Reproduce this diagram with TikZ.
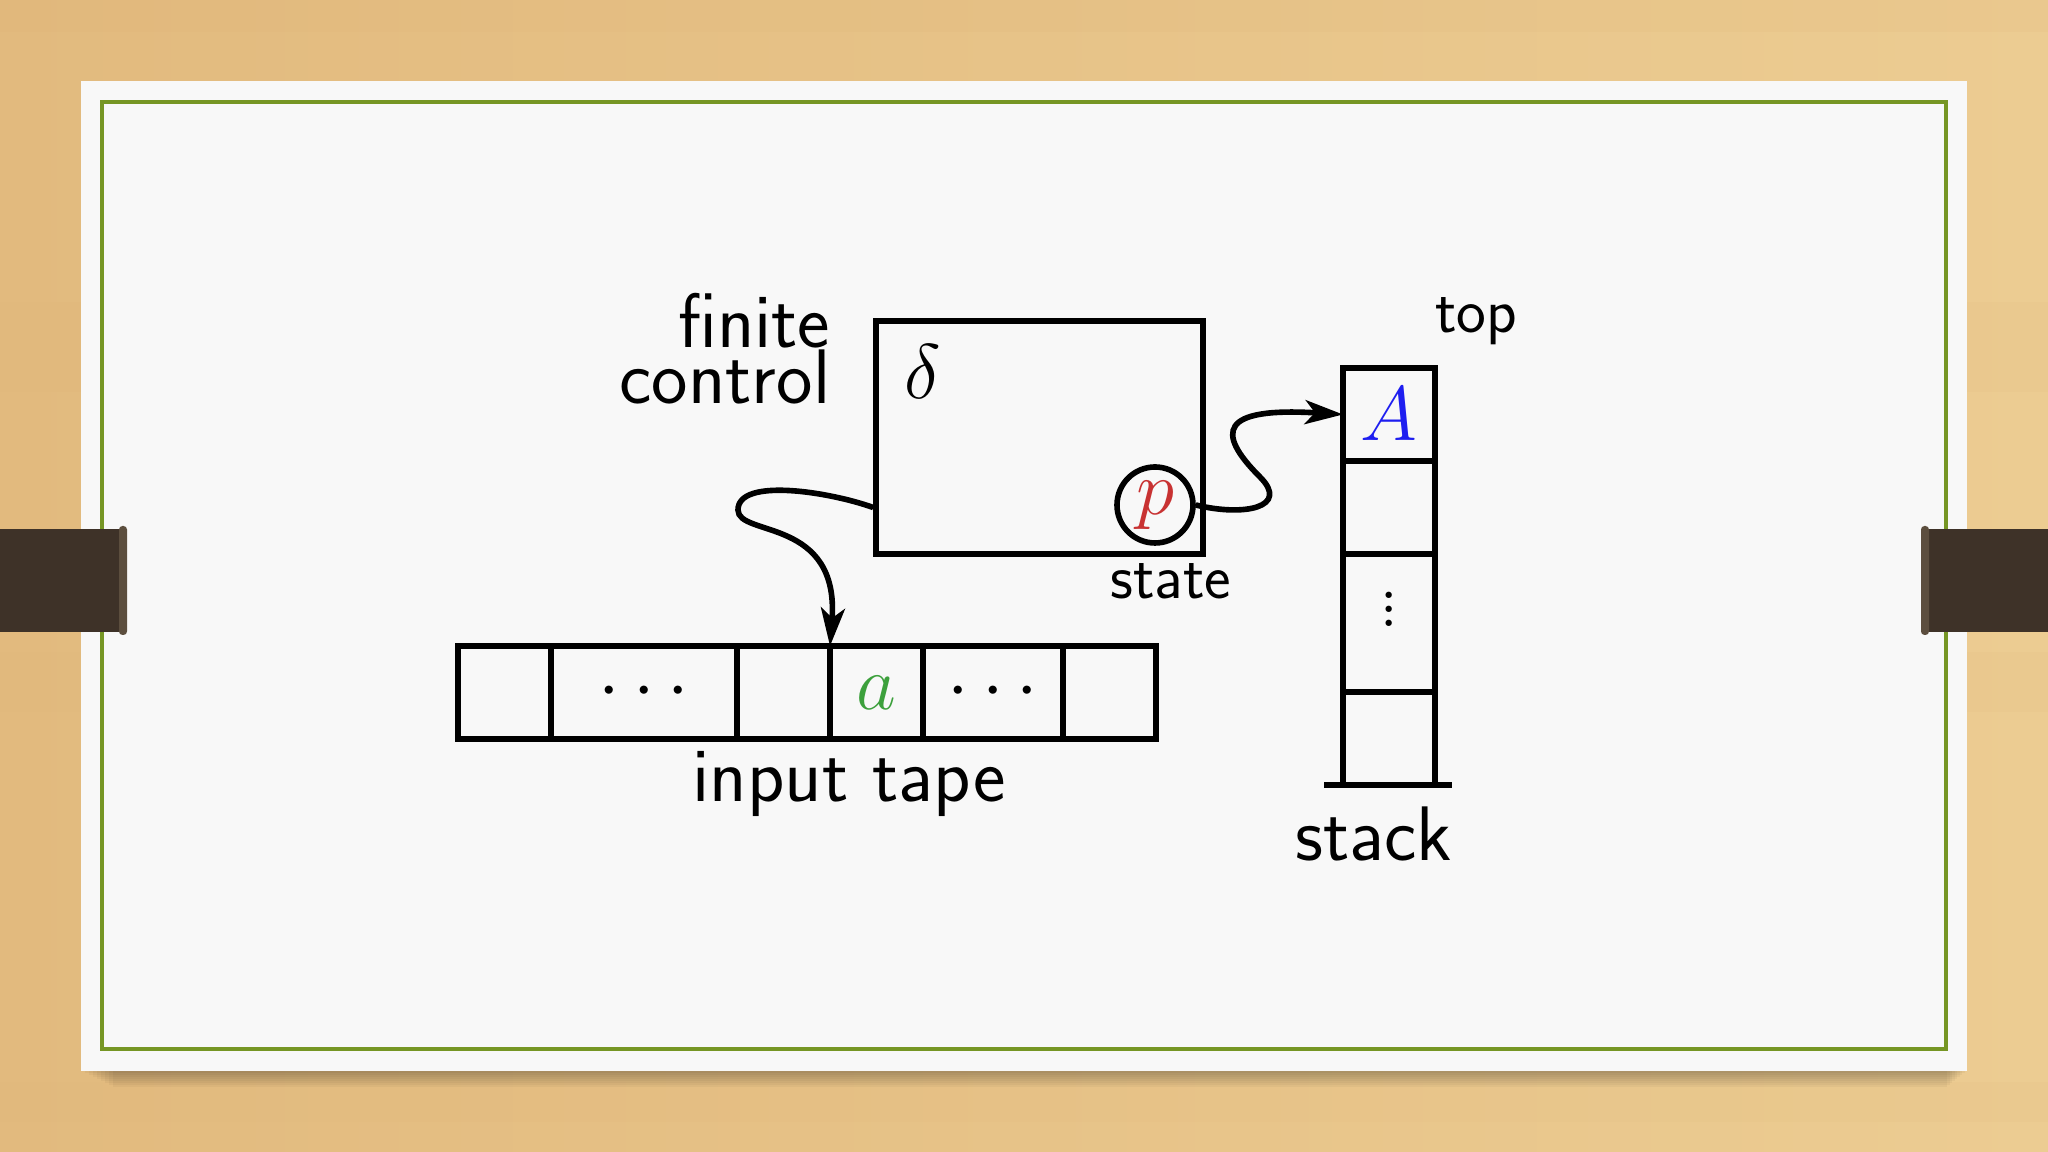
\RequirePackage{fix-cm}
\documentclass[tikz,border=0pt]{standalone}
\usetikzlibrary{arrows.meta, positioning, calc}
\definecolor{woodleft}   {RGB}{226, 186, 126}
\definecolor{woodright}  {RGB}{236, 204, 146}
\definecolor{papercolor} {RGB}{248, 248, 248}
\definecolor{framecolor} {RGB}{118, 150,  36}
\definecolor{bandcolor}  {RGB}{ 62,  50,  40}
\definecolor{capcolor}   {RGB}{ 92,  78,  62}
\definecolor{statecolor} {RGB}{200,  50,  50}
\definecolor{inputcolor} {RGB}{ 60, 160,  60}
\definecolor{stackcolor} {RGB}{ 30,  30, 240}
\newcommand{\diagfont}{\fontsize{22}{16}\selectfont}
\newcommand{\notefont}{\fontsize{18}{20}\selectfont}
\tikzset{
	cellblock/.style={
		rectangle, draw=black, line width=1.6pt,
		minimum width=0.93cm, minimum height=0.93cm,
		inner sep=0pt, outer sep=0pt, font=\diagfont
	},
	ctrlblock/.style={
		rectangle, draw=black, line width=1.6pt,
		minimum width=3.27cm, minimum height=2.33cm,
		inner sep=0pt
	},
	statecircle/.style={
		circle, draw=black, line width=1.6pt,
		minimum size=0.76cm, inner sep=0pt, font=\diagfont
	},
	textlabel/.style={inner sep=0pt, font=\diagfont\sffamily},
	notelabel/.style={inner sep=0pt, font=\notefont\sffamily},
	arrow/.style={
		-{Stealth[length=0.38cm, width=0.24cm, inset=0.1cm]},
		line width=1.6pt, color=black
	},
	groundline/.style={line width=1.6pt, color=black}
}

\begin{document}
\begin{tikzpicture}
	\useasboundingbox (0,0) rectangle (20.48,11.52);

	%% ═══════════════════════════════
	%%  BACKGROUND — wood, paper, bands
	%% ═══════════════════════════════
	\shade[left color=woodleft, right color=woodright] (0,0) rectangle (20.48,11.52);
	\foreach \y/\h/\op in {11.2/0.32/0.12, 7.6/0.9/0.1, 4.4/0.6/0.08, 0.3/0.4/0.08}
		\fill[woodleft!85!brown, opacity=\op] (0,\y) rectangle (20.48,\y+\h);

	% shadow under the paper
	\foreach \d in {1,...,8}
		\fill[black, opacity=0.035] (0.81+0.04*\d,0.81-0.02*\d) rectangle (19.67-0.025*\d,1.5);

	\fill[papercolor] (0.81,0.81) rectangle (19.67,10.71);
	\draw[framecolor, line width=0.9pt] (1.02,1.03) rectangle (19.46,10.50);

	% binder bands
	\fill[bandcolor] (0,5.20) rectangle (1.24,6.23);
	\fill[capcolor, rounded corners=1pt] (1.19,5.17) rectangle (1.27,6.26);
	\fill[bandcolor] (19.24,5.20) rectangle (20.48,6.23);
	\fill[capcolor, rounded corners=1pt] (19.21,5.17) rectangle (19.29,6.26);

	%% ═══════════════════════════════
	%%  FINITE CONTROL
	%% ═══════════════════════════════
	\node[ctrlblock] (fc) at (10.395,7.145) {};
	\node[inner sep=0pt, font=\diagfont] (delta) at (9.23,7.80) {$\delta$};
	\node[statecircle] (p) at (11.55,6.47) {$\color{statecolor}p$};
	\node[textlabel, align=right, anchor=east] (fclabel) at (8.31,8.03) {finite\\control};
	\node[notelabel] (statelabel) at (11.71,5.71) {state};

	%% ═══════════════════════════════
	%%  INPUT TAPE
	%% ═══════════════════════════════
	\node[cellblock] (t1) at (5.045,4.595) {};
	\node[cellblock, minimum width=1.86cm, right=0pt of t1] (t2) {$\cdots$};
	\node[cellblock, right=0pt of t2] (t3) {};
	\node[cellblock, right=0pt of t3] (t4) {$\color{inputcolor}a$};
	\node[cellblock, minimum width=1.40cm, right=0pt of t4] (t5) {$\cdots$};
	\node[cellblock, right=0pt of t5] (t6) {};
	\node[textlabel] (tapelabel) at (8.49,3.68) {input tape};

	%% ═══════════════════════════════
	%%  STACK
	%% ═══════════════════════════════
	\node[cellblock, minimum width=0.92cm] (s1) at (13.89,7.375) {$\color{stackcolor}A$};
	\node[cellblock, minimum width=0.92cm, below=0pt of s1] (s2) {};
	\node[cellblock, minimum width=0.92cm, minimum height=1.38cm, below=0pt of s2] (s3) {};
	\node[cellblock, minimum width=0.92cm, below=0pt of s3] (s4) {};
	\node[inner sep=0pt, font=\diagfont] (sdots) at ([yshift=0.24cm]s3.center) {$\vdots$};
	\draw[groundline] ([xshift=-0.19cm]s4.south west) -- ([xshift=0.17cm]s4.south east);
	\node[notelabel] (toplabel) at (14.76,8.31) {top};
	\node[textlabel] (stacklabel) at (13.74,3.18) {stack};

	%% ═══════════════════════════════
	%%  CONNECTORS
	%% ═══════════════════════════════
	\coordinate (loopin) at (7.38,6.42);
	\coordinate (loopout) at (12.60,6.75);

	% finite control → tape head
	\draw[arrow] ([yshift=-0.7cm]fc.west) .. controls (8.30,6.60) and (7.38,6.75) .. (loopin)
		.. controls (7.38,6.15) and (8.40,6.35) .. (t4.north west);

	% state → top of stack
	\draw[arrow] (p.east) .. controls (12.45,6.35) and (12.90,6.45) .. (loopout)
		.. controls (12.15,7.20) and (12.20,7.45) .. (s1.west);

\end{tikzpicture}
\end{document}
